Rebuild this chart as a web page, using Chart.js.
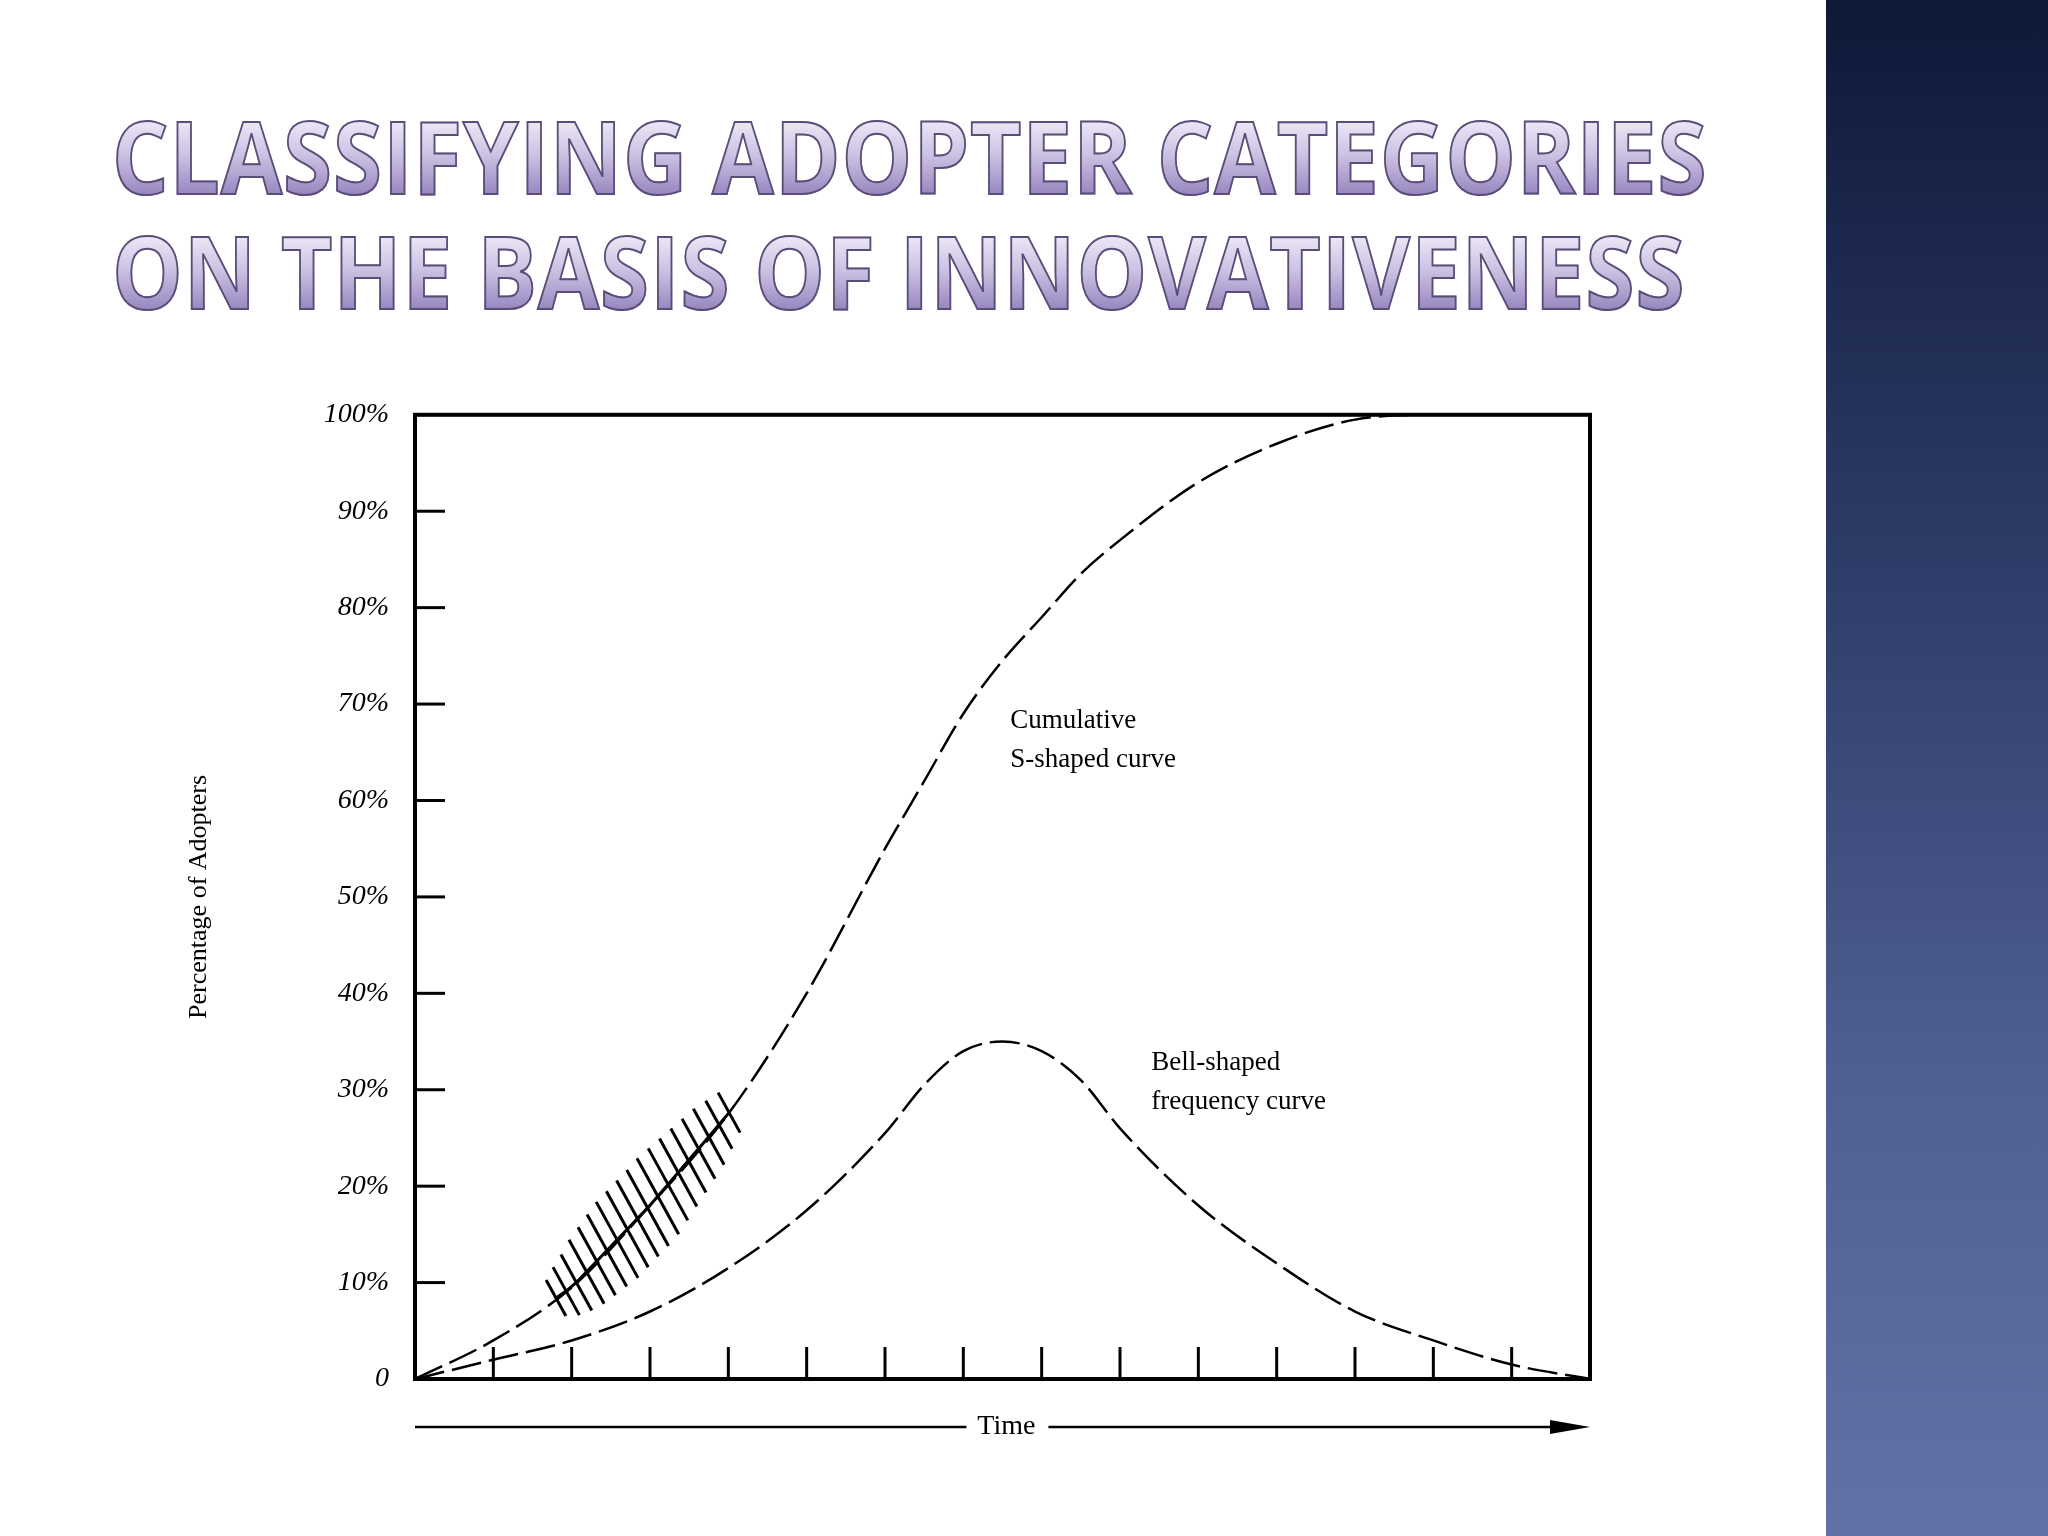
<!DOCTYPE html>
<html>
<head>
<meta charset="utf-8">
<script src="https://cdn.jsdelivr.net/npm/chart.js@4.4.0/dist/chart.umd.min.js"></script>
<style>
  html, body { margin: 0; padding: 0; background: #fff; }
  body { width: 2048px; height: 1536px; position: relative; overflow: hidden; }
  .side {
    position: absolute; left: 1826px; top: 0; width: 222px; height: 1536px;
    background: linear-gradient(to bottom, #0e1838 0%, #2c3a66 35%, #4f5f92 70%, #6372a6 100%);
  }
  .title {
    position: absolute; left: 112px; top: 98px; margin: 0;
    font-family: "Open Sans", "DejaVu Sans", sans-serif; font-weight: 700;
    font-size: 100px; line-height: 115px; letter-spacing: 1px;
    transform: scaleX(0.89); transform-origin: left top;
    white-space: nowrap;
  }
  .title span {
    display: block;
    background: linear-gradient(to bottom, #f2eef9 15%, #cbc1e2 50%, #8e7cba 90%);
    -webkit-background-clip: text; background-clip: text; color: transparent;
    -webkit-text-stroke: 2px #5a4d78;
  }
  #wrap { position: absolute; left: 180px; top: 380px; width: 1470px; height: 1100px; }
</style>
</head>
<body>
<div class="side"></div>
<h1 class="title"><span>CLASSIFYING ADOPTER CATEGORIES</span><span>ON THE BASIS OF INNOVATIVENESS</span></h1>
<div id="wrap"><canvas id="c" width="1470" height="1100"></canvas></div>
<script>
// time steps along the x axis
const timeSteps = [0, 1, 2, 3, 4, 5, 6, 6.5, 7, 7.5, 8, 8.5, 9, 10, 11, 12, 13, 14, 15];
// cumulative S-shaped curve (%)
const cumulative = [0, 4, 9.5, 18, 27.5, 40, 55, 62, 69, 74.5, 79, 83.5, 87, 93, 97, 99.5, 100, 100, 100];
// bell-shaped frequency curve (%)
const frequency = [0, 2, 4, 7, 11.5, 17.5, 25.5, 30.5, 34, 35, 34, 31, 26, 18, 12, 7, 4, 1.5, 0];
const yTicks = [0, 10, 20, 30, 40, 50, 60, 70, 80, 90, 100];
const xTicks = [1, 2, 3, 4, 5, 6, 7, 8, 9, 10, 11, 12, 13, 14];
// hatch marks across the S-curve (innovators / early adopters region)
const hatchX = [1.8, 1.93, 2.06, 2.19, 2.32, 2.45, 2.58, 2.71, 2.84, 2.97, 3.1, 3.23, 3.36, 3.49, 3.62, 3.75, 3.88, 4.01];
const hatchLen = [18, 24, 28, 32, 34, 36, 38, 38, 38, 38, 38, 36, 34, 32, 30, 28, 24, 20];

const serif = '"Liberation Serif", "DejaVu Serif", serif';

const decorations = {
  id: 'decorations',
  afterDatasetsDraw(chart) {
    const { ctx, chartArea: a, scales: { x, y } } = chart;
    ctx.save();
    ctx.strokeStyle = '#000';
    // frame
    ctx.lineWidth = 4;
    ctx.strokeRect(a.left, a.top, a.right - a.left, a.bottom - a.top);
    // inward ticks
    ctx.lineWidth = 3;
    yTicks.slice(1, -1).forEach(v => {
      const py = y.getPixelForValue(v);
      ctx.beginPath(); ctx.moveTo(a.left, py); ctx.lineTo(a.left + 30, py); ctx.stroke();
    });
    xTicks.forEach(v => {
      const px = x.getPixelForValue(v);
      ctx.beginPath(); ctx.moveTo(px, a.bottom); ctx.lineTo(px, a.bottom - 32); ctx.stroke();
    });
    // solid curve under the hatching, then hatches
    const valAt = v => {
      const i = timeSteps.findIndex(t => t >= v);
      const t0 = timeSteps[i - 1], t1 = timeSteps[i];
      return cumulative[i - 1] + (cumulative[i] - cumulative[i - 1]) * (v - t0) / (t1 - t0);
    };
    ctx.lineWidth = 3;
    ctx.beginPath();
    hatchX.forEach((v, k) => {
      const px = x.getPixelForValue(v), py = y.getPixelForValue(valAt(v));
      k ? ctx.lineTo(px, py) : ctx.moveTo(px, py);
    });
    ctx.stroke();
    hatchX.forEach((v, k) => {
      const px = x.getPixelForValue(v), py = y.getPixelForValue(valAt(v));
      const l = hatchLen[k];
      ctx.beginPath(); ctx.moveTo(px - l * 0.55, py - l); ctx.lineTo(px + l * 0.55, py + l); ctx.stroke();
    });
    // annotations
    ctx.fillStyle = '#000';
    ctx.font = '27px ' + serif;
    ctx.textAlign = 'left';
    ctx.fillText('Cumulative', x.getPixelForValue(7.6), y.getPixelForValue(67.5));
    ctx.fillText('S-shaped curve', x.getPixelForValue(7.6), y.getPixelForValue(63.5));
    ctx.fillText('Bell-shaped', x.getPixelForValue(9.4), y.getPixelForValue(32));
    ctx.fillText('frequency curve', x.getPixelForValue(9.4), y.getPixelForValue(28));
    // time arrow
    const ty = a.bottom + 48;
    const mid = x.getPixelForValue(7.55);
    ctx.lineWidth = 2.5;
    ctx.beginPath(); ctx.moveTo(a.left, ty); ctx.lineTo(mid - 40, ty); ctx.stroke();
    ctx.beginPath(); ctx.moveTo(mid + 42, ty); ctx.lineTo(a.right - 20, ty); ctx.stroke();
    ctx.beginPath(); ctx.moveTo(a.right, ty); ctx.lineTo(a.right - 40, ty - 7); ctx.lineTo(a.right - 40, ty + 7); ctx.closePath(); ctx.fill();
    ctx.textAlign = 'center'; ctx.textBaseline = 'middle';
    ctx.font = '28px ' + serif;
    ctx.fillText('Time', mid, ty);
    ctx.restore();
  }
};

new Chart(document.getElementById('c'), {
  type: 'line',
  data: {
    labels: timeSteps,
    datasets: [
      { label: 'Cumulative', data: timeSteps.map((t, i) => ({ x: t, y: cumulative[i] })),
        borderColor: '#000', borderWidth: 2.5, borderDash: [30, 8], pointRadius: 0, cubicInterpolationMode: 'monotone' },
      { label: 'Frequency', data: timeSteps.map((t, i) => ({ x: t, y: frequency[i] })),
        borderColor: '#000', borderWidth: 2.5, borderDash: [30, 8], pointRadius: 0, cubicInterpolationMode: 'monotone' }
    ]
  },
  options: {
    responsive: false,
    animation: false,
    layout: { padding: { top: 29, right: 60, left: 0, bottom: 0 } },
    plugins: { legend: { display: false }, tooltip: { enabled: false } },
    scales: {
      x: {
        type: 'linear', min: 0, max: 15,
        grid: { display: false }, border: { display: false },
        ticks: { display: false },
        afterFit: s => { s.height = 101; }
      },
      y: {
        min: 0, max: 100,
        afterBuildTicks: s => { s.ticks = yTicks.map(v => ({ value: v })); },
        grid: { display: false }, border: { display: false },
        ticks: {
          color: '#000', padding: 18,
          font: { family: serif, size: 28, style: 'italic' },
          callback: v => v === 0 ? '0' : v + '%'
        },
        title: { display: true, text: 'Percentage of Adopters', color: '#000', font: { family: serif, size: 26 }, padding: { bottom: 50 } },
        afterFit: s => { s.width = 235; }
      }
    }
  },
  plugins: [decorations]
});
</script>
</body>
</html>
